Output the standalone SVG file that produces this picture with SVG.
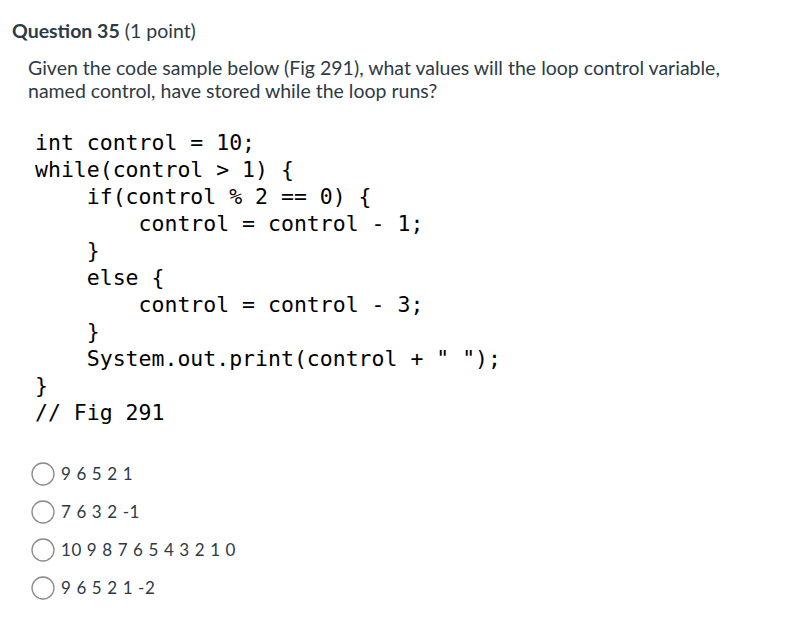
<svg xmlns="http://www.w3.org/2000/svg" width="794" height="617" viewBox="0 0 794 617">
<style>
.t{font-family:Lato,"Open Sans","Liberation Sans",sans-serif;fill:#2d3b45}
.c{font-family:"DejaVu Sans Mono","Liberation Mono",monospace;font-size:21.5px;fill:#000;white-space:pre}
.o{font-family:Lato,"Open Sans","Liberation Sans",sans-serif;font-size:17px;fill:#2d3b45;letter-spacing:0.6px}
.r{fill:#fff;stroke:#8a8a8a;stroke-width:1.3}
</style>
<rect width="794" height="617" fill="#fff"/>
<text x="12" y="38" class="t" font-size="19.5"><tspan font-weight="bold">Question 35</tspan> (1 point)</text>
<text x="28" y="75" class="t" font-size="19.5">Given the code sample below (Fig 291), what values will the loop control variable,</text>
<text x="28" y="98" class="t" font-size="19.5">named control, have stored while the loop runs?</text>
<g>
<text x="35" y="150" class="c">int control = 10;</text>
<text x="35" y="177" class="c">while(control &gt; 1) {</text>
<text x="35" y="204" class="c">    if(control % 2 == 0) {</text>
<text x="35" y="231" class="c">        control = control - 1;</text>
<text x="35" y="258" class="c">    }</text>
<text x="35" y="285" class="c">    else {</text>
<text x="35" y="312" class="c">        control = control - 3;</text>
<text x="35" y="339" class="c">    }</text>
<text x="35" y="366" class="c">    System.out.print(control + " ");</text>
<text x="35" y="393" class="c">}</text>
<text x="35" y="420" class="c">// Fig 291</text>
</g>
<circle class="r" cx="43" cy="474" r="11"/>
<circle class="r" cx="43" cy="512" r="11"/>
<circle class="r" cx="43" cy="550" r="11"/>
<circle class="r" cx="43" cy="588" r="11"/>
<text x="61" y="480" class="o">9 6 5 2 1</text>
<text x="61" y="518" class="o">7 6 3 2 -1</text>
<text x="61" y="556" class="o">10 9 8 7 6 5 4 3 2 1 0</text>
<text x="61" y="594" class="o">9 6 5 2 1 -2</text>
</svg>
